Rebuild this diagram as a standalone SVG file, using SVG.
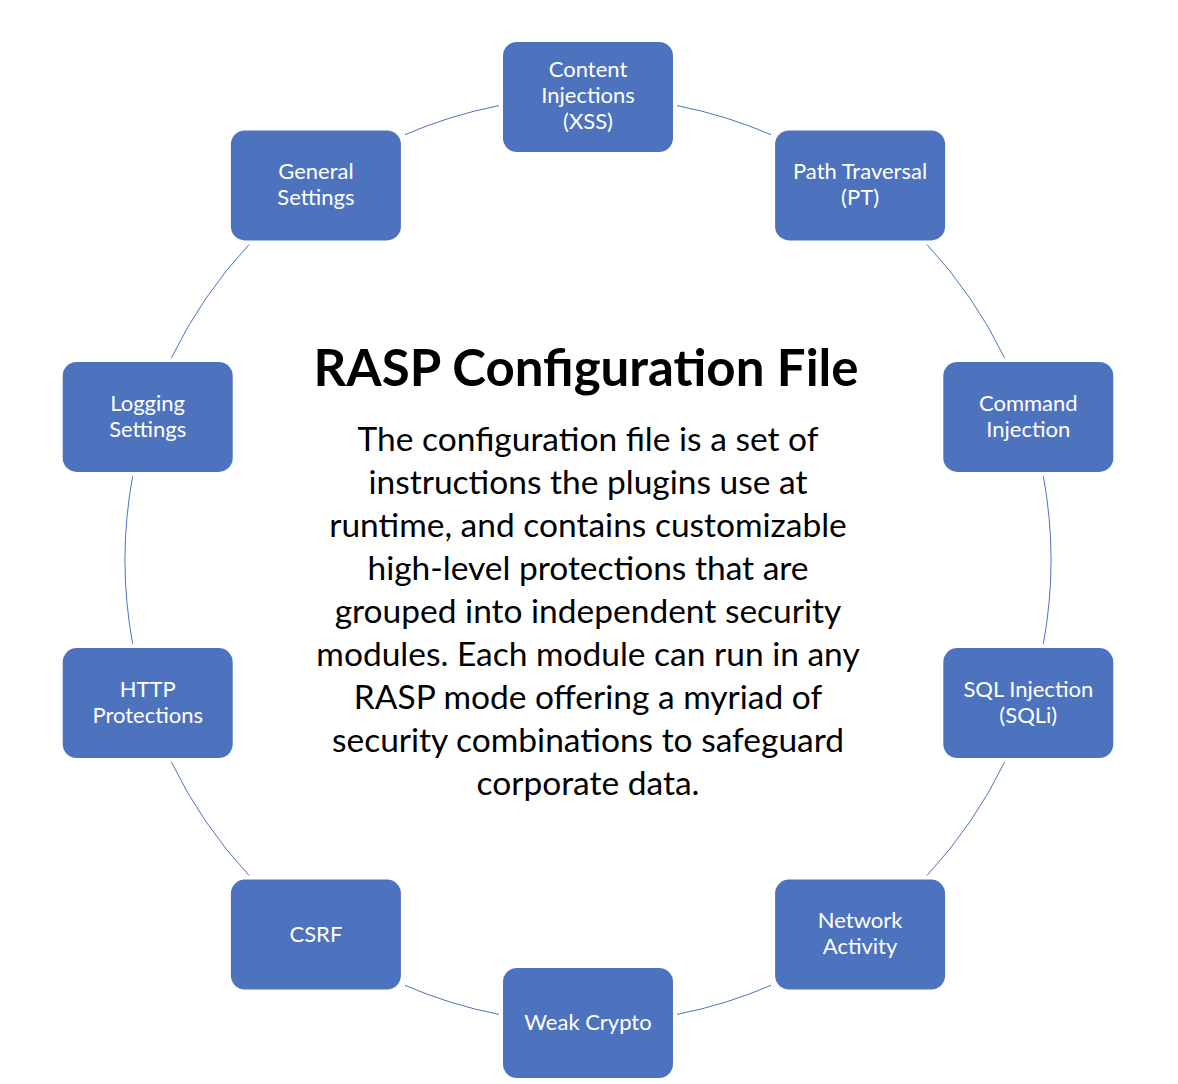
<svg xmlns="http://www.w3.org/2000/svg" width="1178" height="1084" viewBox="0 0 1178 1084">
<style>
.node rect{fill:#4E73BE;}
.node text{fill:#ffffff;font-family:Lato,"Open Sans",sans-serif;font-size:22px;text-anchor:middle;}
.arc{fill:none;stroke:#4E73BE;stroke-width:1;}
.title{font-family:Lato,"Open Sans",sans-serif;font-weight:bold;font-size:51px;fill:#000;text-anchor:middle;}
.body{font-family:Lato,"Open Sans",sans-serif;font-size:33.5px;fill:#000;text-anchor:middle;}
</style>
<rect width="1178" height="1084" fill="#ffffff"/>
<g id="connectors">
<path class="arc" d="M677.0,105.6 A463,463 0 0 1 771.1,134.7"/>
<path class="arc" d="M926.8,244.4 A463,463 0 0 1 1004.6,357.9"/>
<path class="arc" d="M1043.3,475.9 A463,463 0 0 1 1043.3,644.1"/>
<path class="arc" d="M1004.6,762.1 A463,463 0 0 1 926.8,875.6"/>
<path class="arc" d="M771.1,985.3 A463,463 0 0 1 677.0,1014.4"/>
<path class="arc" d="M499.0,1014.4 A463,463 0 0 1 404.9,985.3"/>
<path class="arc" d="M249.2,875.6 A463,463 0 0 1 171.4,762.1"/>
<path class="arc" d="M132.7,644.1 A463,463 0 0 1 132.7,475.9"/>
<path class="arc" d="M171.4,357.9 A463,463 0 0 1 249.2,244.4"/>
<path class="arc" d="M404.9,134.7 A463,463 0 0 1 499.0,105.6"/>
</g>
<g id="node-content-injections" class="node">
<rect x="503" y="42" width="170" height="110" rx="14"/>
<text x="588" y="77">Content</text>
<text x="588" y="103">Injections</text>
<text x="588" y="129">(XSS)</text>
</g>
<g id="node-path-traversal" class="node">
<rect x="775.1" y="130.4" width="170" height="110" rx="14"/>
<text x="860.1" y="179">Path Traversal</text>
<text x="860.1" y="205">(PT)</text>
</g>
<g id="node-command-injection" class="node">
<rect x="943.3" y="361.9" width="170" height="110" rx="14"/>
<text x="1028.3" y="410.5">Command</text>
<text x="1028.3" y="436.5">Injection</text>
</g>
<g id="node-sql-injection" class="node">
<rect x="943.3" y="648.1" width="170" height="110" rx="14"/>
<text x="1028.3" y="696.7">SQL Injection</text>
<text x="1028.3" y="722.7">(SQLi)</text>
</g>
<g id="node-network-activity" class="node">
<rect x="775.1" y="879.6" width="170" height="110" rx="14"/>
<text x="860.1" y="928.2">Network</text>
<text x="860.1" y="954.2">Activity</text>
</g>
<g id="node-weak-crypto" class="node">
<rect x="503" y="968" width="170" height="110" rx="14"/>
<text x="588" y="1030">Weak Crypto</text>
</g>
<g id="node-csrf" class="node">
<rect x="230.9" y="879.6" width="170" height="110" rx="14"/>
<text x="315.9" y="941.6">CSRF</text>
</g>
<g id="node-http-protections" class="node">
<rect x="62.7" y="648.1" width="170" height="110" rx="14"/>
<text x="147.7" y="696.7">HTTP</text>
<text x="147.7" y="722.7">Protections</text>
</g>
<g id="node-logging-settings" class="node">
<rect x="62.7" y="361.9" width="170" height="110" rx="14"/>
<text x="147.7" y="410.5">Logging</text>
<text x="147.7" y="436.5">Settings</text>
</g>
<g id="node-general-settings" class="node">
<rect x="230.9" y="130.4" width="170" height="110" rx="14"/>
<text x="315.9" y="179">General</text>
<text x="315.9" y="205">Settings</text>
</g>
<g id="center-text">
<text class="title" x="586" y="386">RASP Configuration File</text>
<text class="body" x="588" y="451">The configuration file is a set of</text>
<text class="body" x="588" y="494">instructions the plugins use at</text>
<text class="body" x="588" y="537">runtime, and contains customizable</text>
<text class="body" x="588" y="580">high-level protections that are</text>
<text class="body" x="588" y="623">grouped into independent security</text>
<text class="body" x="588" y="666">modules. Each module can run in any</text>
<text class="body" x="588" y="709">RASP mode offering a myriad of</text>
<text class="body" x="588" y="752">security combinations to safeguard</text>
<text class="body" x="588" y="795">corporate data.</text>
</g>
</svg>
